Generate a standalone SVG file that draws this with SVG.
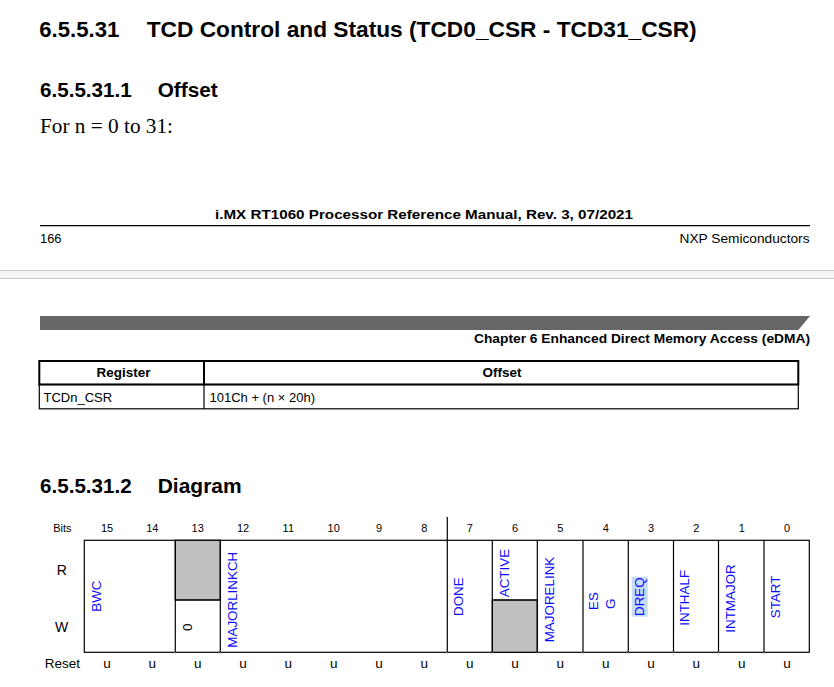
<svg xmlns="http://www.w3.org/2000/svg" width="834" height="687" viewBox="0 0 834 687">
<style>
text{font-family:"Liberation Sans",Arial,sans-serif;fill:#000}
.h1{font-size:22.5px;font-weight:bold}
.h2{font-size:19.5px;font-weight:bold}
.body{font-family:"Liberation Serif","Times New Roman",serif;font-size:20.5px}
.foot{font-size:13.5px;font-weight:bold}
.small{font-size:13px}
.th{font-size:13.5px;font-weight:bold}
.td{font-size:13px}
.bit{font-size:11px;text-anchor:middle}
.lbl{font-size:14px;text-anchor:middle}
.rst{font-size:13.5px;text-anchor:middle}
.fld{font-size:13.4px;fill:#0a0aff}
.cell{fill:none;stroke:#000;stroke-width:1.2}
.grey{fill:#c0c0c0;stroke:#000;stroke-width:1.2}
.tick{stroke:#bbb;stroke-width:1}
</style>
<rect width="834" height="687" fill="#fff"/>

<g id="heading">
<text class="h1" x="39.3" y="36.7" textLength="80" lengthAdjust="spacingAndGlyphs">6.5.5.31</text>
<text class="h1" x="146.7" y="36.7" textLength="550" lengthAdjust="spacingAndGlyphs">TCD Control and Status (TCD0_CSR - TCD31_CSR)</text>
</g>
<g id="offset-heading">
<text class="h2" x="40" y="96.7" textLength="91.7" lengthAdjust="spacingAndGlyphs">6.5.5.31.1</text>
<text class="h2" x="157.7" y="96.7" textLength="60" lengthAdjust="spacingAndGlyphs">Offset</text>
<text class="body" x="40" y="133.3" textLength="133" lengthAdjust="spacingAndGlyphs">For n = 0 to 31:</text>
</g>

<g id="page-footer">
<text class="foot" x="424" y="218.5" text-anchor="middle" textLength="418" lengthAdjust="spacingAndGlyphs">i.MX RT1060 Processor Reference Manual, Rev. 3, 07/2021</text>
<line x1="40" y1="225.7" x2="810" y2="225.7" stroke="#000" stroke-width="1.3"/>
<text class="small" x="40" y="242.5" textLength="21.5" lengthAdjust="spacingAndGlyphs">166</text>
<text class="small" x="809.5" y="242.5" text-anchor="end" textLength="130" lengthAdjust="spacingAndGlyphs">NXP Semiconductors</text>
</g>

<g id="page-break">
<rect x="0" y="270.5" width="834" height="8" fill="#f4f4f4"/>
<line x1="0" y1="270.5" x2="834" y2="270.5" stroke="#c8c8c8" stroke-width="1"/>
<line x1="0" y1="278.5" x2="834" y2="278.5" stroke="#c8c8c8" stroke-width="1"/>
</g>

<g id="chapter-header">
<polygon points="40,316 810,316 798.3,330 40,330" fill="#666"/>
<text class="foot" x="810" y="342.5" text-anchor="end" textLength="336" lengthAdjust="spacingAndGlyphs">Chapter 6 Enhanced Direct Memory Access (eDMA)</text>
</g>

<g id="offset-table">
<rect x="39.3" y="384.5" width="759" height="24.3" fill="none" stroke="#000" stroke-width="1.2"/>
<line x1="204" y1="384.5" x2="204" y2="408.8" stroke="#000" stroke-width="1.2"/>
<rect x="39.3" y="361" width="759" height="23.5" fill="none" stroke="#000" stroke-width="2"/>
<line x1="204" y1="361" x2="204" y2="384.5" stroke="#000" stroke-width="2"/>
<text class="th" x="123.5" y="377" text-anchor="middle">Register</text>
<text class="th" x="502" y="377" text-anchor="middle">Offset</text>
<text class="td" x="43.5" y="401.5">TCDn_CSR</text>
<text class="td" x="209.5" y="401.5">101Ch + (n × 20h)</text>
</g>

<g id="diagram-heading">
<text class="h2" x="40" y="493" textLength="91.7" lengthAdjust="spacingAndGlyphs">6.5.5.31.2</text>
<text class="h2" x="157.7" y="493" textLength="84" lengthAdjust="spacingAndGlyphs">Diagram</text>
</g>

<g id="register-diagram">
<text class="bit" x="62.3" y="531.7">Bits</text>
<text class="bit" x="107" y="531.7">15</text>
<text class="bit" x="152.3" y="531.7">14</text>
<text class="bit" x="197.7" y="531.7">13</text>
<text class="bit" x="243" y="531.7">12</text>
<text class="bit" x="288.3" y="531.7">11</text>
<text class="bit" x="333.7" y="531.7">10</text>
<text class="bit" x="379" y="531.7">9</text>
<text class="bit" x="424.3" y="531.7">8</text>
<text class="bit" x="469.7" y="531.7">7</text>
<text class="bit" x="515" y="531.7">6</text>
<text class="bit" x="560.3" y="531.7">5</text>
<text class="bit" x="605.7" y="531.7">4</text>
<text class="bit" x="651" y="531.7">3</text>
<text class="bit" x="696.3" y="531.7">2</text>
<text class="bit" x="741.7" y="531.7">1</text>
<text class="bit" x="787" y="531.7">0</text>
<text class="lbl" x="61.7" y="575">R</text>
<text class="lbl" x="61.7" y="631.7">W</text>

<g id="cells">
<rect class="cell" x="84.3" y="540.3" width="725" height="112"/>
<rect class="grey" x="175.3" y="540.3" width="45" height="59.7"/>
<rect class="grey" x="492.3" y="600" width="45" height="52.3"/>
<line class="cell" x1="175.3" y1="540.3" x2="175.3" y2="652.3"/>
<line class="cell" x1="220.3" y1="540.3" x2="220.3" y2="652.3"/>
<line class="cell" x1="447.3" y1="517" x2="447.3" y2="652.3"/>
<line class="cell" x1="492.3" y1="540.3" x2="492.3" y2="652.3"/>
<line class="cell" x1="537.3" y1="540.3" x2="537.3" y2="652.3"/>
<line class="cell" x1="583" y1="540.3" x2="583" y2="652.3"/>
<line class="cell" x1="628.3" y1="540.3" x2="628.3" y2="652.3"/>
<line class="cell" x1="673.5" y1="540.3" x2="673.5" y2="652.3"/>
<line class="cell" x1="718.5" y1="540.3" x2="718.5" y2="652.3"/>
<line class="cell" x1="764" y1="540.3" x2="764" y2="652.3"/>
<line class="cell" x1="175.3" y1="600" x2="220.3" y2="600"/>
<line class="cell" x1="492.3" y1="600" x2="537.3" y2="600"/>
<line class="tick" x1="175.3" y1="652.3" x2="175.3" y2="654.5"/>
<line class="tick" x1="220.3" y1="652.3" x2="220.3" y2="654.5"/>
<line class="tick" x1="447.3" y1="652.3" x2="447.3" y2="654.5"/>
<line class="tick" x1="492.3" y1="652.3" x2="492.3" y2="654.5"/>
<line class="tick" x1="537.3" y1="652.3" x2="537.3" y2="654.5"/>
<line class="tick" x1="583" y1="652.3" x2="583" y2="654.5"/>
<line class="tick" x1="628.3" y1="652.3" x2="628.3" y2="654.5"/>
<line class="tick" x1="673.5" y1="652.3" x2="673.5" y2="654.5"/>
<line class="tick" x1="718.5" y1="652.3" x2="718.5" y2="654.5"/>
<line class="tick" x1="764" y1="652.3" x2="764" y2="654.5"/>
</g>

<g id="fields">
<rect x="631.7" y="576.7" width="16" height="40" fill="#c6dbf5"/>
<text class="fld" transform="translate(100.7,611.7) rotate(-90)">BWC</text>
<text class="fld" style="fill:#000" transform="translate(191.7,631) rotate(-90)">0</text>
<text class="fld" transform="translate(236.7,647.7) rotate(-90)">MAJORLINKCH</text>
<text class="fld" transform="translate(463.3,616) rotate(-90)">DONE</text>
<text class="fld" transform="translate(509.3,597.3) rotate(-90)">ACTIVE</text>
<text class="fld" transform="translate(554,642.3) rotate(-90)">MAJORELINK</text>
<text class="fld" transform="translate(598.3,610) rotate(-90)">ES</text>
<text class="fld" transform="translate(615,609) rotate(-90)">G</text>
<text class="fld" transform="translate(644,616) rotate(-90)">DREQ</text>
<text class="fld" transform="translate(689.3,625.7) rotate(-90)">INTHALF</text>
<text class="fld" transform="translate(735,632.7) rotate(-90)">INTMAJOR</text>
<text class="fld" transform="translate(780,618.3) rotate(-90)">START</text>
</g>

<g id="reset-row">
<text class="rst" x="62.3" y="668">Reset</text>
<text class="rst" x="107" y="668">u</text>
<text class="rst" x="152.3" y="668">u</text>
<text class="rst" x="197.7" y="668">u</text>
<text class="rst" x="243" y="668">u</text>
<text class="rst" x="288.3" y="668">u</text>
<text class="rst" x="333.7" y="668">u</text>
<text class="rst" x="379" y="668">u</text>
<text class="rst" x="424.3" y="668">u</text>
<text class="rst" x="469.7" y="668">u</text>
<text class="rst" x="515" y="668">u</text>
<text class="rst" x="560.3" y="668">u</text>
<text class="rst" x="605.7" y="668">u</text>
<text class="rst" x="651" y="668">u</text>
<text class="rst" x="696.3" y="668">u</text>
<text class="rst" x="741.7" y="668">u</text>
<text class="rst" x="787" y="668">u</text>
</g>
</g>
</svg>
